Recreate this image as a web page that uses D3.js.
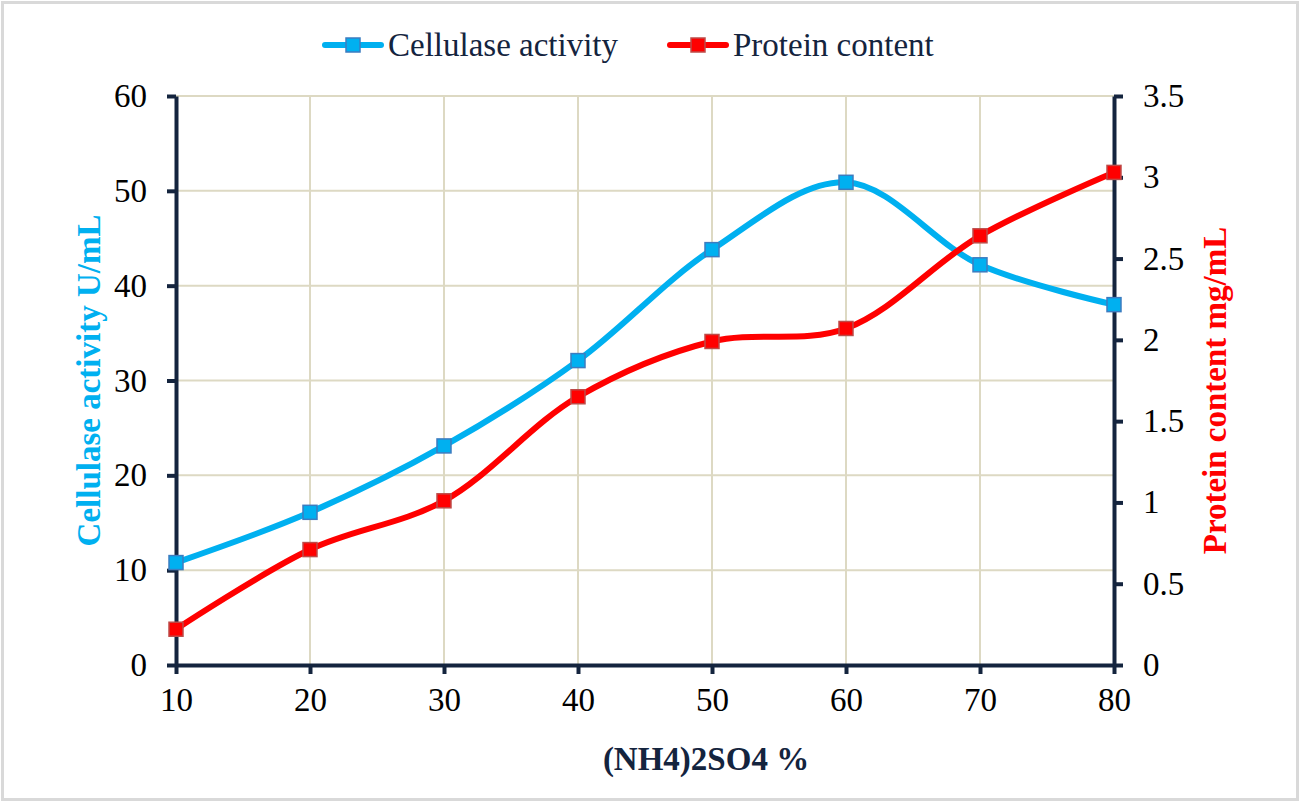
<!DOCTYPE html>
<html>
<head>
<meta charset="utf-8">
<script src="https://cdn.jsdelivr.net/npm/d3@7"></script>
<style>
  body { margin: 0; background: #fff; }
  svg { display: block; font-family: "Liberation Serif", "Times New Roman", serif; }
</style>
</head>
<body>
<div id="chart"></div>
<script>
// data
const saturation = [10, 20, 30, 40, 50, 60, 70, 80];
const cellulase = [10.8, 16.1, 23.1, 32.1, 43.8, 50.9, 42.2, 38.0];
const protein = [0.22, 0.71, 1.01, 1.65, 1.99, 2.07, 2.64, 3.03];
const leftTicks = [0, 10, 20, 30, 40, 50, 60];
const rightTicks = [0, 0.5, 1, 1.5, 2, 2.5, 3, 3.5];
const xTicks = [10, 20, 30, 40, 50, 60, 70, 80];

const W = 1300, H = 804;
const m = { top: 96, right: 186, bottom: 139, left: 176 };
const axisColor = "#14243e";
const gridColor = "#ddd9c3";
const blue = "#00b0f0", red = "#ff0000";
const fs = "33px";

const svg = d3.select("#chart").append("svg")
    .attr("width", W)
    .attr("height", H);

// outer border
svg.append("rect")
    .attr("x", 2.5).attr("y", 2.5)
    .attr("width", W - 5).attr("height", H - 7)
    .attr("fill", "#fff")
    .attr("stroke", "#d9d9d9")
    .attr("stroke-width", 3);

const x = d3.scaleLinear().domain([10, 80]).range([m.left, W - m.right]);
const yL = d3.scaleLinear().domain([0, 60]).range([H - m.bottom, m.top]);
const yR = d3.scaleLinear().domain([0, 3.5]).range([H - m.bottom, m.top]);

// gridlines
svg.append("g").selectAll("line.h")
    .data(leftTicks.filter(d => d > 0))
    .join("line")
    .attr("x1", x(10)).attr("x2", x(80))
    .attr("y1", d => yL(d)).attr("y2", d => yL(d))
    .attr("stroke", gridColor).attr("stroke-width", 2);

svg.append("g").selectAll("line.v")
    .data(xTicks.filter(d => d > 10 && d < 80))
    .join("line")
    .attr("x1", d => x(d)).attr("x2", d => x(d))
    .attr("y1", yL(0)).attr("y2", yL(60))
    .attr("stroke", gridColor).attr("stroke-width", 2);

// axes
function styleAxis(g) {
    g.attr("font-size", null).attr("font-family", null);
    g.select(".domain").attr("stroke", axisColor).attr("stroke-width", 4);
    g.selectAll(".tick line").attr("stroke", axisColor).attr("stroke-width", 4);
    g.selectAll(".tick text")
        .attr("fill", "#000")
        .style("font-size", fs);
}

svg.append("g")
    .attr("transform", `translate(0,${yL(0)})`)
    .call(d3.axisBottom(x).tickValues(xTicks).tickSize(9).tickSizeOuter(0).tickPadding(14))
    .call(styleAxis);

svg.append("g")
    .attr("transform", `translate(${x(10)},0)`)
    .call(d3.axisLeft(yL).tickValues(leftTicks).tickSize(9).tickSizeOuter(0).tickPadding(20))
    .call(styleAxis);

svg.append("g")
    .attr("transform", `translate(${x(80)},0)`)
    .call(d3.axisRight(yR).tickValues(rightTicks).tickFormat(d3.format("")).tickSize(9).tickSizeOuter(0).tickPadding(20))
    .call(styleAxis);

// axis titles
svg.append("text")
    .attr("transform", `translate(100,${(yL(0) + yL(60)) / 2}) rotate(-90)`)
    .attr("text-anchor", "middle")
    .attr("fill", blue)
    .style("font-size", fs)
    .style("font-weight", "bold")
    .text("Cellulase activity U/mL");

svg.append("text")
    .attr("transform", `translate(1226,${(yL(0) + yL(60)) / 2 + 10}) rotate(-90)`)
    .attr("text-anchor", "middle")
    .attr("fill", red)
    .style("font-size", fs)
    .style("font-weight", "bold")
    .text("Protein content mg/mL");

svg.append("text")
    .attr("x", 706).attr("y", 770)
    .attr("text-anchor", "middle")
    .attr("fill", axisColor)
    .style("font-size", fs)
    .style("font-weight", "bold")
    .text("(NH4)2SO4 %");

// series
const series = [
    { name: "Cellulase activity", values: cellulase, y: yL, color: blue, edge: "#3d7cc0" },
    { name: "Protein content", values: protein, y: yR, color: red, edge: "#be4b48" }
];

series.forEach(s => {
    const line = d3.line()
        .x((d, i) => x(saturation[i]))
        .y(d => s.y(d))
        .curve(d3.curveCatmullRom.alpha(0.5));

    svg.append("path")
        .datum(s.values)
        .attr("fill", "none")
        .attr("stroke", s.color)
        .attr("stroke-width", 6)
        .attr("stroke-linecap", "round")
        .attr("d", line);

    svg.append("g").selectAll("rect")
        .data(s.values)
        .join("rect")
        .attr("x", (d, i) => x(saturation[i]) - 7)
        .attr("y", d => s.y(d) - 7)
        .attr("width", 14).attr("height", 14)
        .attr("fill", s.color)
        .attr("stroke", s.edge)
        .attr("stroke-width", 1.5);
});

// legend
const legend = svg.append("g");
const legendItems = [
    { x0: 325, textX: 388 },
    { x0: 670, textX: 733 }
];
series.forEach((s, i) => {
    const g = legend.append("g");
    const lx = legendItems[i].x0;
    g.append("line")
        .attr("x1", lx).attr("x2", lx + 56)
        .attr("y1", 45).attr("y2", 45)
        .attr("stroke", s.color).attr("stroke-width", 6)
        .attr("stroke-linecap", "round");
    g.append("rect")
        .attr("x", lx + 28 - 7).attr("y", 45 - 7)
        .attr("width", 14).attr("height", 14)
        .attr("fill", s.color)
        .attr("stroke", s.edge).attr("stroke-width", 1.5);
    g.append("text")
        .attr("x", legendItems[i].textX).attr("y", 56)
        .attr("fill", axisColor)
        .style("font-size", fs)
        .text(s.name);
});
</script>
</body>
</html>
